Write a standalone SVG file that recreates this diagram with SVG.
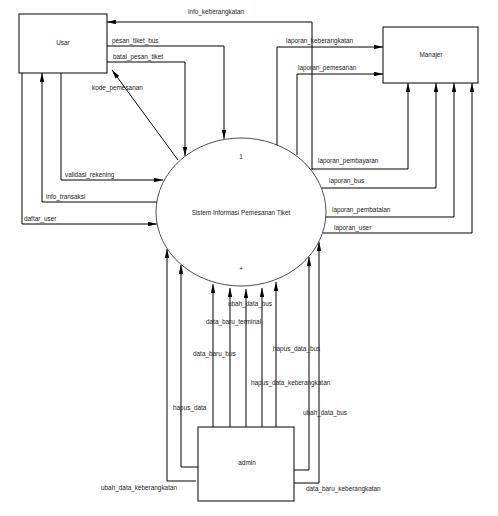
<svg xmlns="http://www.w3.org/2000/svg" width="498" height="516" viewBox="0 0 498 516">
<style>
.box{fill:#fff;stroke:#000;stroke-width:1}
.proc{fill:#fff;stroke:#222;stroke-width:0.8}
.c{fill:none;stroke:#000;stroke-width:1;marker-end:url(#ah)}
.n{fill:none;stroke:#000;stroke-width:1}
text{font-family:"Liberation Sans",Arial,sans-serif;font-size:6.4px;fill:#222}
.m{text-anchor:middle}
</style>
<defs>
<marker id="ah" markerUnits="userSpaceOnUse" viewBox="0 0 10 5" refX="10" refY="2.5" markerWidth="10" markerHeight="4.5" orient="auto">
<path d="M0,0 L10,2.5 L0,5 z" fill="#000"/>
</marker>
</defs>
<rect width="498" height="516" fill="#fff"/>
<g id="connectors">
<path class="c" d="M312,170 V22 H107"/>
<path class="c" d="M312,169 H408 V83"/>
<path class="c" d="M107,46 H224 V139"/>
<path class="c" d="M107,62 H185 V156"/>
<path class="c" d="M178,160 L112,70"/>
<path class="c" d="M61,73 V180 H163"/>
<path class="c" d="M157,202 H42 V73"/>
<path class="c" d="M22,73 V224 H157"/>
<path class="c" d="M277,146 V47 H383"/>
<path class="c" d="M297,155 V74 H383"/>
<path class="c" d="M322,188 H436 V83"/>
<path class="c" d="M324,217 H454 V83"/>
<path class="c" d="M323,233 H472 V83"/>
<path class="c" d="M196,481 H167 V249"/>
<path class="c" d="M198,467 H181 V265"/>
<path class="c" d="M213,427 V284"/>
<path class="c" d="M230,427 V288"/>
<path class="c" d="M246,427 V289"/>
<path class="c" d="M262,427 V288"/>
<path class="c" d="M276,427 V282"/>
<path class="c" d="M294,470 H309 V257"/>
<path class="c" d="M294,483 H319 V242"/>
<text x="188" y="14.3">info_keberangkatan</text>
<text x="112" y="43.3">pesan_tiket_bus</text>
<text x="113" y="59.3">batal_pesan_tiket</text>
<text x="92" y="90.3">kode_pemesanan</text>
<text x="65" y="177.3">validasi_rekening</text>
<text x="46" y="199.3">info_transaksi</text>
<text x="24" y="221.3">daftar_user</text>
<text x="286" y="43.3">laporan_keberangkatan</text>
<text x="298" y="70.3">laporan_pemesanan</text>
<text x="318" y="163.3">laporan_pembayaran</text>
<text x="329" y="183.3">laporan_bus</text>
<text x="332" y="212.3">laporan_pembatalan</text>
<text x="334" y="230.3">laporan_user</text>
<text x="228" y="306.3">ubah_data_bus</text>
<text x="206" y="324.3">data_baru_terminal</text>
<text x="193" y="356.3">data_baru_bus</text>
<text x="273" y="351.3">hapus_data_bus</text>
<text x="251" y="385.3">hapus_data_keberangkatan</text>
<text x="173" y="410.3">hapus_data</text>
<text x="303" y="415.3">ubah_data_bus</text>
<text x="101" y="490.3">ubah_data_keberangkatan</text>
<text x="306" y="491.3">data_baru_keberangkatan</text>
</g>
<g id="usar">
<rect class="box" x="19" y="14" width="88" height="59"/>
<text class="m" x="63" y="45.3">Usar</text>
</g>
<g id="manajer">
<rect class="box" x="383" y="27" width="95" height="56"/>
<text class="m" x="431" y="57.3">Manajer</text>
</g>
<g id="admin">
<rect class="box" x="198" y="427" width="96" height="74"/>
<text class="m" x="247" y="465.3">admin</text>
</g>
<g id="sistem">
<ellipse class="proc" cx="241" cy="212" rx="85" ry="74" fill="none"/>
<text class="m" x="241" y="159.3">1</text>
<text class="m" x="241" y="215.3">Sistem Informasi Pemesanan Tiket</text>
<text class="m" x="241" y="271.3">+</text>
</g>
</svg>
